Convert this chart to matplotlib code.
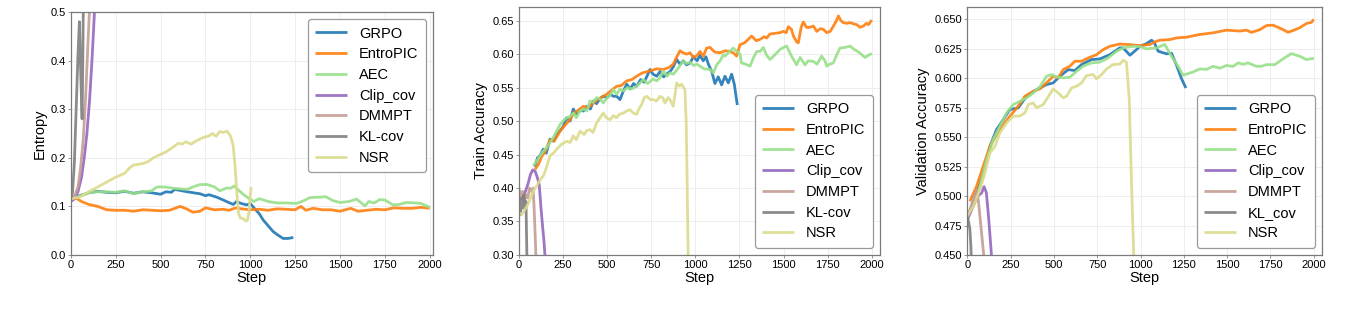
import matplotlib
matplotlib.use("Agg")
import matplotlib.pyplot as plt

plt.rcParams['font.family'] = ['Liberation Sans', 'DejaVu Sans']

labels = ["GRPO", "EntroPIC", "AEC", "Clip_cov", "DMMPT", "KL-cov", "NSR"]
labels_val = ["GRPO", "EntroPIC", "AEC", "Clip_cov", "DMMPT", "KL_cov", "NSR"]
colors = ["#1f77b4", "#ff7f0e", "#98df8a", "#9467bd", "#c49c94", "#7f7f7f", "#dbdb8d"]

# ---------------- Entropy ----------------
grpo_ent_x = [0, 50, 100, 150, 200, 250, 300, 350, 400, 450, 500, 530, 560, 580, 620, 650, 700, 720, 750, 770,
              813, 850, 880, 905, 924, 950, 980, 1000, 1020, 1050, 1072, 1100, 1128, 1150, 1183, 1210, 1240]
grpo_ent_y = [0.115, 0.122, 0.128, 0.131, 0.129, 0.128, 0.131, 0.127, 0.130, 0.128, 0.125, 0.130, 0.129, 0.135,
              0.132, 0.130, 0.127, 0.126, 0.122, 0.124, 0.119, 0.113, 0.108, 0.104, 0.110, 0.106, 0.103, 0.106,
              0.097, 0.085, 0.072, 0.060, 0.048, 0.042, 0.034, 0.034, 0.036]
entropic_ent_x = [0, 30, 60, 100, 150, 200, 250, 300, 350, 400, 450, 500, 550, 610, 650, 680, 720, 750, 800, 850,
                  880, 920, 950, 1000, 1050, 1100, 1150, 1200, 1250, 1282, 1310, 1350, 1400, 1450, 1500, 1560, 1600,
                  1650, 1700, 1750, 1800, 1850, 1900, 1950, 2000]
entropic_ent_y = [0.115, 0.117, 0.110, 0.104, 0.100, 0.093, 0.092, 0.092, 0.090, 0.093, 0.092, 0.091, 0.092, 0.100,
                  0.094, 0.088, 0.090, 0.097, 0.093, 0.094, 0.092, 0.097, 0.095, 0.093, 0.094, 0.092, 0.095, 0.094,
                  0.093, 0.100, 0.092, 0.096, 0.093, 0.093, 0.090, 0.096, 0.090, 0.092, 0.094, 0.093, 0.097, 0.096,
                  0.096, 0.098, 0.096]
aec_ent_x = [0, 50, 100, 150, 200, 250, 300, 350, 400, 450, 480, 520, 580, 650, 680, 720, 760, 800, 830, 870, 890,
             910, 930, 960, 990, 1020, 1050, 1100, 1150, 1200, 1258, 1300, 1332, 1388, 1420, 1460, 1500, 1550, 1592,
             1639, 1660, 1690, 1722, 1750, 1796, 1830, 1870, 1920, 1950, 1990, 2000]
aec_ent_y = [0.115, 0.120, 0.128, 0.130, 0.130, 0.129, 0.132, 0.126, 0.130, 0.132, 0.140, 0.140, 0.137, 0.135,
             0.140, 0.145, 0.145, 0.140, 0.132, 0.138, 0.137, 0.142, 0.135, 0.125, 0.117, 0.110, 0.116, 0.110,
             0.107, 0.107, 0.106, 0.112, 0.118, 0.119, 0.120, 0.112, 0.108, 0.110, 0.115, 0.101, 0.110, 0.107,
             0.114, 0.113, 0.103, 0.104, 0.108, 0.107, 0.106, 0.100, 0.097]
clip_ent_x = [0, 20, 40, 60, 75, 90, 105, 118, 132, 145]
clip_ent_y = [0.11, 0.115, 0.13, 0.16, 0.20, 0.25, 0.32, 0.40, 0.50, 0.60]
dmmpt_ent_x = [0, 20, 40, 55, 70, 82, 94, 106, 115]
dmmpt_ent_y = [0.11, 0.12, 0.14, 0.18, 0.24, 0.32, 0.42, 0.52, 0.60]
kl_ent_x = [0, 10, 20, 30, 40, 48, 55, 63, 67, 72]
kl_ent_y = [0.11, 0.13, 0.19, 0.30, 0.41, 0.48, 0.38, 0.28, 0.40, 0.60]
nsr_ent_x = [0, 50, 100, 150, 200, 250, 300, 330, 350, 400, 430, 460, 500, 530, 570, 600, 620, 640, 670, 700, 740,
             770, 790, 810, 830, 850, 870, 890, 905, 915, 925, 935, 945, 960, 975, 985, 993, 1000, 1005]
nsr_ent_y = [0.115, 0.120, 0.130, 0.140, 0.150, 0.160, 0.168, 0.180, 0.185, 0.188, 0.192, 0.200, 0.207, 0.212,
             0.222, 0.230, 0.228, 0.233, 0.228, 0.235, 0.242, 0.245, 0.250, 0.244, 0.254, 0.252, 0.255, 0.245,
             0.225, 0.185, 0.130, 0.085, 0.076, 0.075, 0.070, 0.072, 0.090, 0.120, 0.140]

# ---------------- Train accuracy ----------------
grpo_tr_x = [90, 105, 119, 138, 155, 176, 195, 214, 232, 251, 270, 290, 308, 325, 345, 365, 385, 405, 422, 440,
             460, 478, 500, 520, 535, 554, 573, 592, 611, 630, 650, 667, 690, 710, 743, 760, 781, 800, 820, 837,
             860, 875, 894, 913, 932, 950, 970, 990, 1010, 1026, 1045, 1060, 1074, 1093, 1111, 1130, 1149, 1168,
             1187, 1206, 1221, 1238]
grpo_tr_y = [0.432, 0.445, 0.448, 0.458, 0.452, 0.473, 0.470, 0.480, 0.485, 0.492, 0.505, 0.500, 0.518, 0.510,
             0.516, 0.515, 0.522, 0.518, 0.530, 0.526, 0.534, 0.537, 0.535, 0.540, 0.537, 0.537, 0.532, 0.545,
             0.555, 0.548, 0.556, 0.552, 0.562, 0.558, 0.577, 0.570, 0.567, 0.574, 0.566, 0.570, 0.575, 0.581,
             0.592, 0.585, 0.590, 0.584, 0.587, 0.596, 0.590, 0.598, 0.590, 0.596, 0.585, 0.574, 0.556, 0.566,
             0.554, 0.567, 0.557, 0.570, 0.555, 0.524]
entropic_tr_x = [91, 110, 129, 150, 176, 200, 233, 255, 289, 310, 330, 365, 390, 422, 445, 470, 497, 520, 554,
                 580, 611, 640, 667, 700, 743, 780, 818, 850, 875, 895, 913, 930, 951, 970, 989, 1010, 1026, 1045,
                 1064, 1083, 1110, 1140, 1170, 1195, 1215, 1234, 1253, 1280, 1300, 1319, 1345, 1367, 1390, 1404,
                 1423, 1450, 1480, 1499, 1515, 1527, 1545, 1556, 1575, 1584, 1600, 1612, 1630, 1650, 1669, 1688,
                 1710, 1726, 1745, 1765, 1783, 1800, 1811, 1825, 1839, 1858, 1877, 1900, 1915, 1934, 1953, 1970,
                 1981, 1990, 2000]
entropic_tr_y = [0.428, 0.435, 0.447, 0.455, 0.472, 0.470, 0.485, 0.492, 0.502, 0.512, 0.515, 0.522, 0.520,
                 0.527, 0.532, 0.536, 0.540, 0.545, 0.552, 0.553, 0.560, 0.562, 0.567, 0.572, 0.575, 0.578, 0.577,
                 0.580, 0.585, 0.596, 0.605, 0.602, 0.600, 0.602, 0.595, 0.598, 0.604, 0.597, 0.609, 0.610, 0.603,
                 0.602, 0.605, 0.604, 0.602, 0.597, 0.614, 0.617, 0.622, 0.627, 0.620, 0.622, 0.626, 0.624, 0.630,
                 0.631, 0.632, 0.634, 0.632, 0.641, 0.637, 0.627, 0.618, 0.617, 0.640, 0.648, 0.640, 0.640, 0.642,
                 0.634, 0.638, 0.637, 0.632, 0.634, 0.642, 0.650, 0.657, 0.650, 0.647, 0.646, 0.647, 0.645, 0.644,
                 0.640, 0.642, 0.646, 0.644, 0.647, 0.651]
aec_tr_x = [81, 100, 119, 138, 157, 176, 200, 214, 233, 260, 289, 310, 325, 346, 370, 385, 403, 420, 440, 460,
            478, 500, 520, 535, 555, 573, 592, 615, 640, 667, 690, 705, 730, 760, 781, 800, 818, 840, 856, 875,
            900, 932, 950, 970, 990, 1008, 1026, 1050, 1083, 1102, 1121, 1140, 1159, 1168, 1190, 1215, 1235, 1253,
            1262, 1285, 1310, 1330, 1348, 1367, 1385, 1405, 1423, 1432, 1455, 1480, 1508, 1518, 1545, 1574, 1594,
            1612, 1622, 1640, 1669, 1690, 1716, 1735, 1745, 1754, 1783, 1800, 1820, 1850, 1877, 1900, 1915, 1940,
            1962, 1980, 2000]
aec_tr_y = [0.433, 0.440, 0.448, 0.455, 0.460, 0.468, 0.478, 0.485, 0.495, 0.503, 0.507, 0.512, 0.505, 0.515,
            0.518, 0.515, 0.530, 0.528, 0.535, 0.533, 0.527, 0.535, 0.540, 0.547, 0.540, 0.548, 0.545, 0.550,
            0.548, 0.552, 0.558, 0.562, 0.556, 0.563, 0.560, 0.565, 0.575, 0.567, 0.572, 0.570, 0.578, 0.590,
            0.586, 0.588, 0.583, 0.585, 0.582, 0.578, 0.577, 0.572, 0.584, 0.590, 0.599, 0.597, 0.603, 0.609,
            0.604, 0.600, 0.587, 0.585, 0.582, 0.595, 0.604, 0.604, 0.610, 0.598, 0.592, 0.594, 0.600, 0.607,
            0.611, 0.612, 0.597, 0.584, 0.595, 0.588, 0.584, 0.590, 0.589, 0.585, 0.597, 0.590, 0.582, 0.584,
            0.587, 0.598, 0.609, 0.610, 0.612, 0.607, 0.605, 0.600, 0.595, 0.598, 0.601]
clip_tr_x = [30, 50, 65, 78, 92, 105, 115, 125, 135, 142, 150]
clip_tr_y = [0.39, 0.405, 0.42, 0.427, 0.425, 0.415, 0.405, 0.37, 0.34, 0.32, 0.29]
dmmpt_tr_x = [0, 10, 20, 30, 40, 50, 60, 70, 80, 86, 92, 97]
dmmpt_tr_y = [0.40, 0.385, 0.395, 0.38, 0.39, 0.385, 0.40, 0.395, 0.40, 0.37, 0.33, 0.29]
kl_tr_x = [0, 8, 15, 22, 28, 35, 40, 43, 46]
kl_tr_y = [0.38, 0.36, 0.385, 0.37, 0.39, 0.37, 0.38, 0.33, 0.28]
nsr_tr_x = [0, 15, 34, 50, 62, 80, 100, 120, 138, 155, 176, 195, 214, 240, 270, 290, 308, 325, 346, 370, 385, 403,
            420, 440, 460, 478, 495, 516, 535, 554, 570, 592, 610, 629, 648, 667, 680, 696, 710, 724, 745, 762,
            780, 800, 815, 828, 845, 856, 875, 885, 894, 910, 922, 941, 948, 953, 957, 960]
nsr_tr_y = [0.363, 0.360, 0.368, 0.375, 0.383, 0.395, 0.403, 0.412, 0.418, 0.430, 0.448, 0.452, 0.458, 0.465,
            0.470, 0.468, 0.478, 0.472, 0.485, 0.480, 0.486, 0.487, 0.483, 0.497, 0.505, 0.512, 0.505, 0.502,
            0.508, 0.505, 0.510, 0.512, 0.515, 0.517, 0.512, 0.510, 0.518, 0.525, 0.535, 0.537, 0.532, 0.532,
            0.530, 0.537, 0.535, 0.527, 0.535, 0.532, 0.522, 0.540, 0.557, 0.552, 0.555, 0.547, 0.500, 0.420,
            0.340, 0.290]

# ---------------- Validation accuracy ----------------
grpo_va_x = [15, 54, 92, 131, 169, 208, 246, 294, 342, 400, 458, 496, 535, 583, 621, 660, 717, 766, 823, 881, 900,
             939, 977, 996, 1030, 1064, 1080, 1102, 1150, 1179, 1208, 1237, 1262]
grpo_va_y = [0.4857, 0.5026, 0.5196, 0.5422, 0.5564, 0.5649, 0.5734, 0.5748, 0.5847, 0.5903, 0.5946, 0.5960,
             0.6017, 0.6073, 0.6065, 0.6116, 0.6158, 0.6164, 0.6200, 0.6258, 0.6257, 0.6195, 0.6243, 0.6271,
             0.6290, 0.6322, 0.6300, 0.6229, 0.6207, 0.6212, 0.6110, 0.5995, 0.5917]
entropic_va_x = [15, 54, 92, 131, 169, 208, 246, 294, 333, 381, 419, 467, 496, 525, 554, 592, 621, 660, 698, 746,
                 785, 823, 881, 938, 996, 1054, 1092, 1111, 1169, 1208, 1265, 1342, 1419, 1496, 1573, 1612, 1640,
                 1688, 1727, 1765, 1813, 1852, 1881, 1919, 1958, 1987, 2000]
entropic_va_y = [0.4956, 0.5083, 0.5253, 0.5422, 0.5521, 0.5606, 0.5677, 0.5762, 0.5847, 0.5889, 0.5909, 0.5974,
                 0.6017, 0.6003, 0.6073, 0.6102, 0.6144, 0.6144, 0.6172, 0.6200, 0.6243, 0.6271, 0.6290, 0.6285,
                 0.6277, 0.6286, 0.6314, 0.6322, 0.6328, 0.6342, 0.6348, 0.6371, 0.6385, 0.6408, 0.6400, 0.6408,
                 0.6389, 0.6411, 0.6447, 0.6450, 0.6419, 0.6390, 0.6405, 0.6428, 0.6464, 0.6475, 0.6498]
aec_va_x = [0, 35, 73, 112, 150, 188, 227, 265, 304, 342, 381, 419, 458, 487, 515, 554, 592, 631, 669, 717, 765,
            813, 862, 900, 958, 996, 1035, 1092, 1140, 1179, 1217, 1246, 1304, 1342, 1381, 1419, 1458, 1496, 1535,
            1563, 1592, 1621, 1669, 1698, 1727, 1775, 1823, 1871, 1919, 1958, 2000]
aec_va_y = [0.4828, 0.4941, 0.5083, 0.5309, 0.5479, 0.5592, 0.5705, 0.5776, 0.5804, 0.5833, 0.5875, 0.5926,
            0.6017, 0.6031, 0.6011, 0.6003, 0.6008, 0.6059, 0.6102, 0.6130, 0.6136, 0.6172, 0.6229, 0.6257,
            0.6271, 0.6268, 0.6249, 0.6257, 0.6286, 0.6186, 0.6101, 0.6025, 0.6053, 0.6079, 0.6075, 0.6101,
            0.6085, 0.6108, 0.6100, 0.6130, 0.6118, 0.6130, 0.6101, 0.6101, 0.6115, 0.6115, 0.6164, 0.6209,
            0.6186, 0.6158, 0.6169]
clip_va_x = [0, 30, 60, 83, 97, 110, 121, 132, 142]
clip_va_y = [0.4797, 0.490, 0.500, 0.5026, 0.508, 0.503, 0.4857, 0.465, 0.445]
dmmpt_va_x = [0, 20, 40, 55, 65, 75, 85, 95, 100]
dmmpt_va_y = [0.483, 0.490, 0.500, 0.505, 0.495, 0.480, 0.465, 0.450, 0.445]
kl_va_x = [0, 8, 15, 20, 24]
kl_va_y = [0.482, 0.478, 0.472, 0.460, 0.445]
nsr_va_x = [0, 35, 73, 102, 131, 160, 188, 227, 265, 304, 333, 352, 381, 400, 438, 496, 525, 554, 573, 602, 631,
            660, 688, 727, 746, 775, 804, 842, 881, 900, 919, 935, 948, 962]
nsr_va_y = [0.4828, 0.4913, 0.5055, 0.5196, 0.5366, 0.5422, 0.5536, 0.5621, 0.5677, 0.5680, 0.5705, 0.5776,
            0.5790, 0.5748, 0.5776, 0.5909, 0.5875, 0.5833, 0.5847, 0.5918, 0.5932, 0.5960, 0.6022, 0.6031,
            0.5994, 0.6031, 0.6079, 0.6116, 0.6120, 0.6153, 0.6135, 0.5819, 0.5111, 0.4450]

panels = [
    dict(series=[(grpo_ent_x, grpo_ent_y), (entropic_ent_x, entropic_ent_y), (aec_ent_x, aec_ent_y),
                 (clip_ent_x, clip_ent_y), (dmmpt_ent_x, dmmpt_ent_y), (kl_ent_x, kl_ent_y), (nsr_ent_x, nsr_ent_y)],
         labels=labels, ylabel="Entropy", ylim=(0.0, 0.5), yticks=[0.0, 0.1, 0.2, 0.3, 0.4, 0.5],
         fmt="{:.1f}", xlim=(0, 2017), loc="upper right",
         pos=[0.052, 0.225, 0.266, 0.7385]),
    dict(series=[(grpo_tr_x, grpo_tr_y), (entropic_tr_x, entropic_tr_y), (aec_tr_x, aec_tr_y),
                 (clip_tr_x, clip_tr_y), (dmmpt_tr_x, dmmpt_tr_y), (kl_tr_x, kl_tr_y), (nsr_tr_x, nsr_tr_y)],
         labels=labels, ylabel="Train Accuracy", ylim=(0.30, 0.6705),
         yticks=[0.30, 0.35, 0.40, 0.45, 0.50, 0.55, 0.60, 0.65], fmt="{:.2f}", xlim=(0, 2047),
         loc="lower right", pos=[0.3813, 0.225, 0.2653, 0.754]),
    dict(series=[(grpo_va_x, grpo_va_y), (entropic_va_x, entropic_va_y), (aec_va_x, aec_va_y),
                 (clip_va_x, clip_va_y), (dmmpt_va_x, dmmpt_va_y), (kl_va_x, kl_va_y), (nsr_va_x, nsr_va_y)],
         labels=labels_val, ylabel="Validation Accuracy", ylim=(0.45, 0.6605),
         yticks=[0.450, 0.475, 0.500, 0.525, 0.550, 0.575, 0.600, 0.625, 0.650], fmt="{:.3f}", xlim=(0, 2048),
         loc="lower right", pos=[0.7107, 0.225, 0.2607, 0.754]),
]

xticks = [0, 250, 500, 750, 1000, 1250, 1500, 1750, 2000]

fig = plt.figure(figsize=(13.61, 3.29), dpi=100)
for p in panels:
    ax = fig.add_axes(p["pos"])
    for (xs, ys), lab, col in zip(p["series"], p["labels"], colors):
        ax.plot(xs, ys, color=col, lw=2.0, alpha=0.9, label=lab, solid_capstyle='butt')
    ax.set_xlim(*p["xlim"])
    ax.set_ylim(*p["ylim"])
    ax.set_xticks(xticks)
    ax.set_xticklabels([str(t) for t in xticks])
    ax.set_yticks(p["yticks"])
    ax.set_yticklabels([p["fmt"].format(t) for t in p["yticks"]])
    ax.tick_params(labelsize=8, length=2, width=0.6, color="#888888", pad=1.5)
    ax.grid(True, color="#ebebeb", lw=0.6)
    ax.set_axisbelow(True)
    for s in ax.spines.values():
        s.set_color("#7a7a7a")
        s.set_linewidth(0.9)
    ax.set_xlabel("Step", fontsize=10.5, labelpad=1)
    ax.set_ylabel(p["ylabel"], fontsize=10.5, labelpad=3)
    leg = ax.legend(loc=p["loc"], fontsize=10.5, handlelength=2.2, labelspacing=0.46,
                    borderpad=0.5, handletextpad=0.8, fancybox=True, framealpha=1.0,
                    borderaxespad=0.5)
    leg.get_frame().set_edgecolor("#9a9a9a")
    leg.get_frame().set_linewidth(0.9)

fig.savefig("out.png", dpi=100)
